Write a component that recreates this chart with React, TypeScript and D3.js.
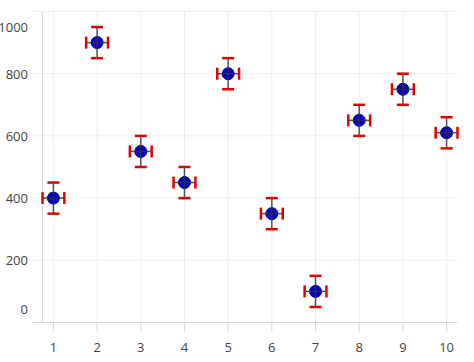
import React from "react";
import * as d3 from "d3";

const xValues = [1, 2, 3, 4, 5, 6, 7, 8, 9, 10];
const yValues = [400, 900, 550, 450, 800, 350, 100, 650, 750, 610];
const yErrors = [50, 50, 50, 50, 50, 50, 50, 50, 50, 50];
const xErrors = [0.25, 0.25, 0.25, 0.25, 0.25, 0.25, 0.25, 0.25, 0.25, 0.25];
const yTicks = [0, 200, 400, 600, 800, 1000];
const xTicks = [1, 2, 3, 4, 5, 6, 7, 8, 9, 10];

const W = 474;
const H = 362;

export default function App() {
  const x = d3.scaleLinear().domain([0.75, 10.25]).range([42.5, 457.5]);
  const y = d3.scaleLinear().domain([0, 1000]).range([322.5, 11.5]);
  const font = "'Open Sans', 'Noto Sans', sans-serif";
  const gridColor = "#eceff1";
  const axisColor = "#cfd8dc";
  const textColor = "#444";

  const labelY = (t: number) => {
    if (t === 1000) return y(t) + 15;
    if (t === 0) return y(t) - 13.5;
    return y(t);
  };

  return (
    <svg
      width={W}
      height={H}
      style={{ position: "absolute", left: 0, top: 0, background: "#fff" }}
      fontFamily={font}
    >
      {/* vertical gridlines */}
      {xTicks.map((t) => (
        <line key={"vg" + t} x1={x(t)} x2={x(t)} y1={y(1000)} y2={y(0)} stroke={gridColor} strokeWidth={1} />
      ))}
      {/* horizontal gridlines */}
      {yTicks.map((t) => (
        <line key={"hg" + t} x1={32} x2={457.5} y1={y(t)} y2={y(t)} stroke={gridColor} strokeWidth={1} />
      ))}
      {/* axes */}
      <line x1={42.5} x2={42.5} y1={y(1000)} y2={y(0)} stroke={axisColor} strokeWidth={1} />
      <line x1={32} x2={457.5} y1={y(0)} y2={y(0)} stroke={axisColor} strokeWidth={1} />
      {xTicks.map((t) => (
        <line key={"xt" + t} x1={x(t)} x2={x(t)} y1={y(0)} y2={y(0) + 9} stroke={axisColor} strokeWidth={1} />
      ))}
      {yTicks.map((t) => (
        <text key={"yl" + t} x={28} y={labelY(t)} textAnchor="end" dominantBaseline="central" fontSize={13} fill={textColor}>
          {t}
        </text>
      ))}
      {xTicks.map((t) => (
        <text key={"xl" + t} x={x(t)} y={347} textAnchor="middle" dominantBaseline="central" fontSize={13} fill={textColor}>
          {t}
        </text>
      ))}
      {/* points with error bars */}
      {xValues.map((xv, i) => {
        const cx = x(xv);
        const cy = y(yValues[i]);
        const top = y(yValues[i] + yErrors[i]);
        const bot = y(yValues[i] - yErrors[i]);
        const left = x(xv - xErrors[i]);
        const right = x(xv + xErrors[i]);
        return (
          <g key={"p" + i}>
            <circle cx={cx} cy={cy} r={6} fill="#0000cc" stroke="#00009a" strokeWidth={1} />
            <line x1={cx} x2={cx} y1={top} y2={bot} stroke="#333" strokeWidth={1.5} strokeOpacity={0.85} />
            <line x1={left} x2={right} y1={cy} y2={cy} stroke="#333" strokeWidth={1.5} strokeOpacity={0.85} />
            <line x1={cx - 6} x2={cx + 6} y1={top} y2={top} stroke="#e00000" strokeWidth={2.5} />
            <line x1={cx - 6} x2={cx + 6} y1={bot} y2={bot} stroke="#e00000" strokeWidth={2.5} />
            <line x1={left} x2={left} y1={cy - 6} y2={cy + 6} stroke="#e00000" strokeWidth={2.5} />
            <line x1={right} x2={right} y1={cy - 6} y2={cy + 6} stroke="#e00000" strokeWidth={2.5} />
          </g>
        );
      })}
    </svg>
  );
}
